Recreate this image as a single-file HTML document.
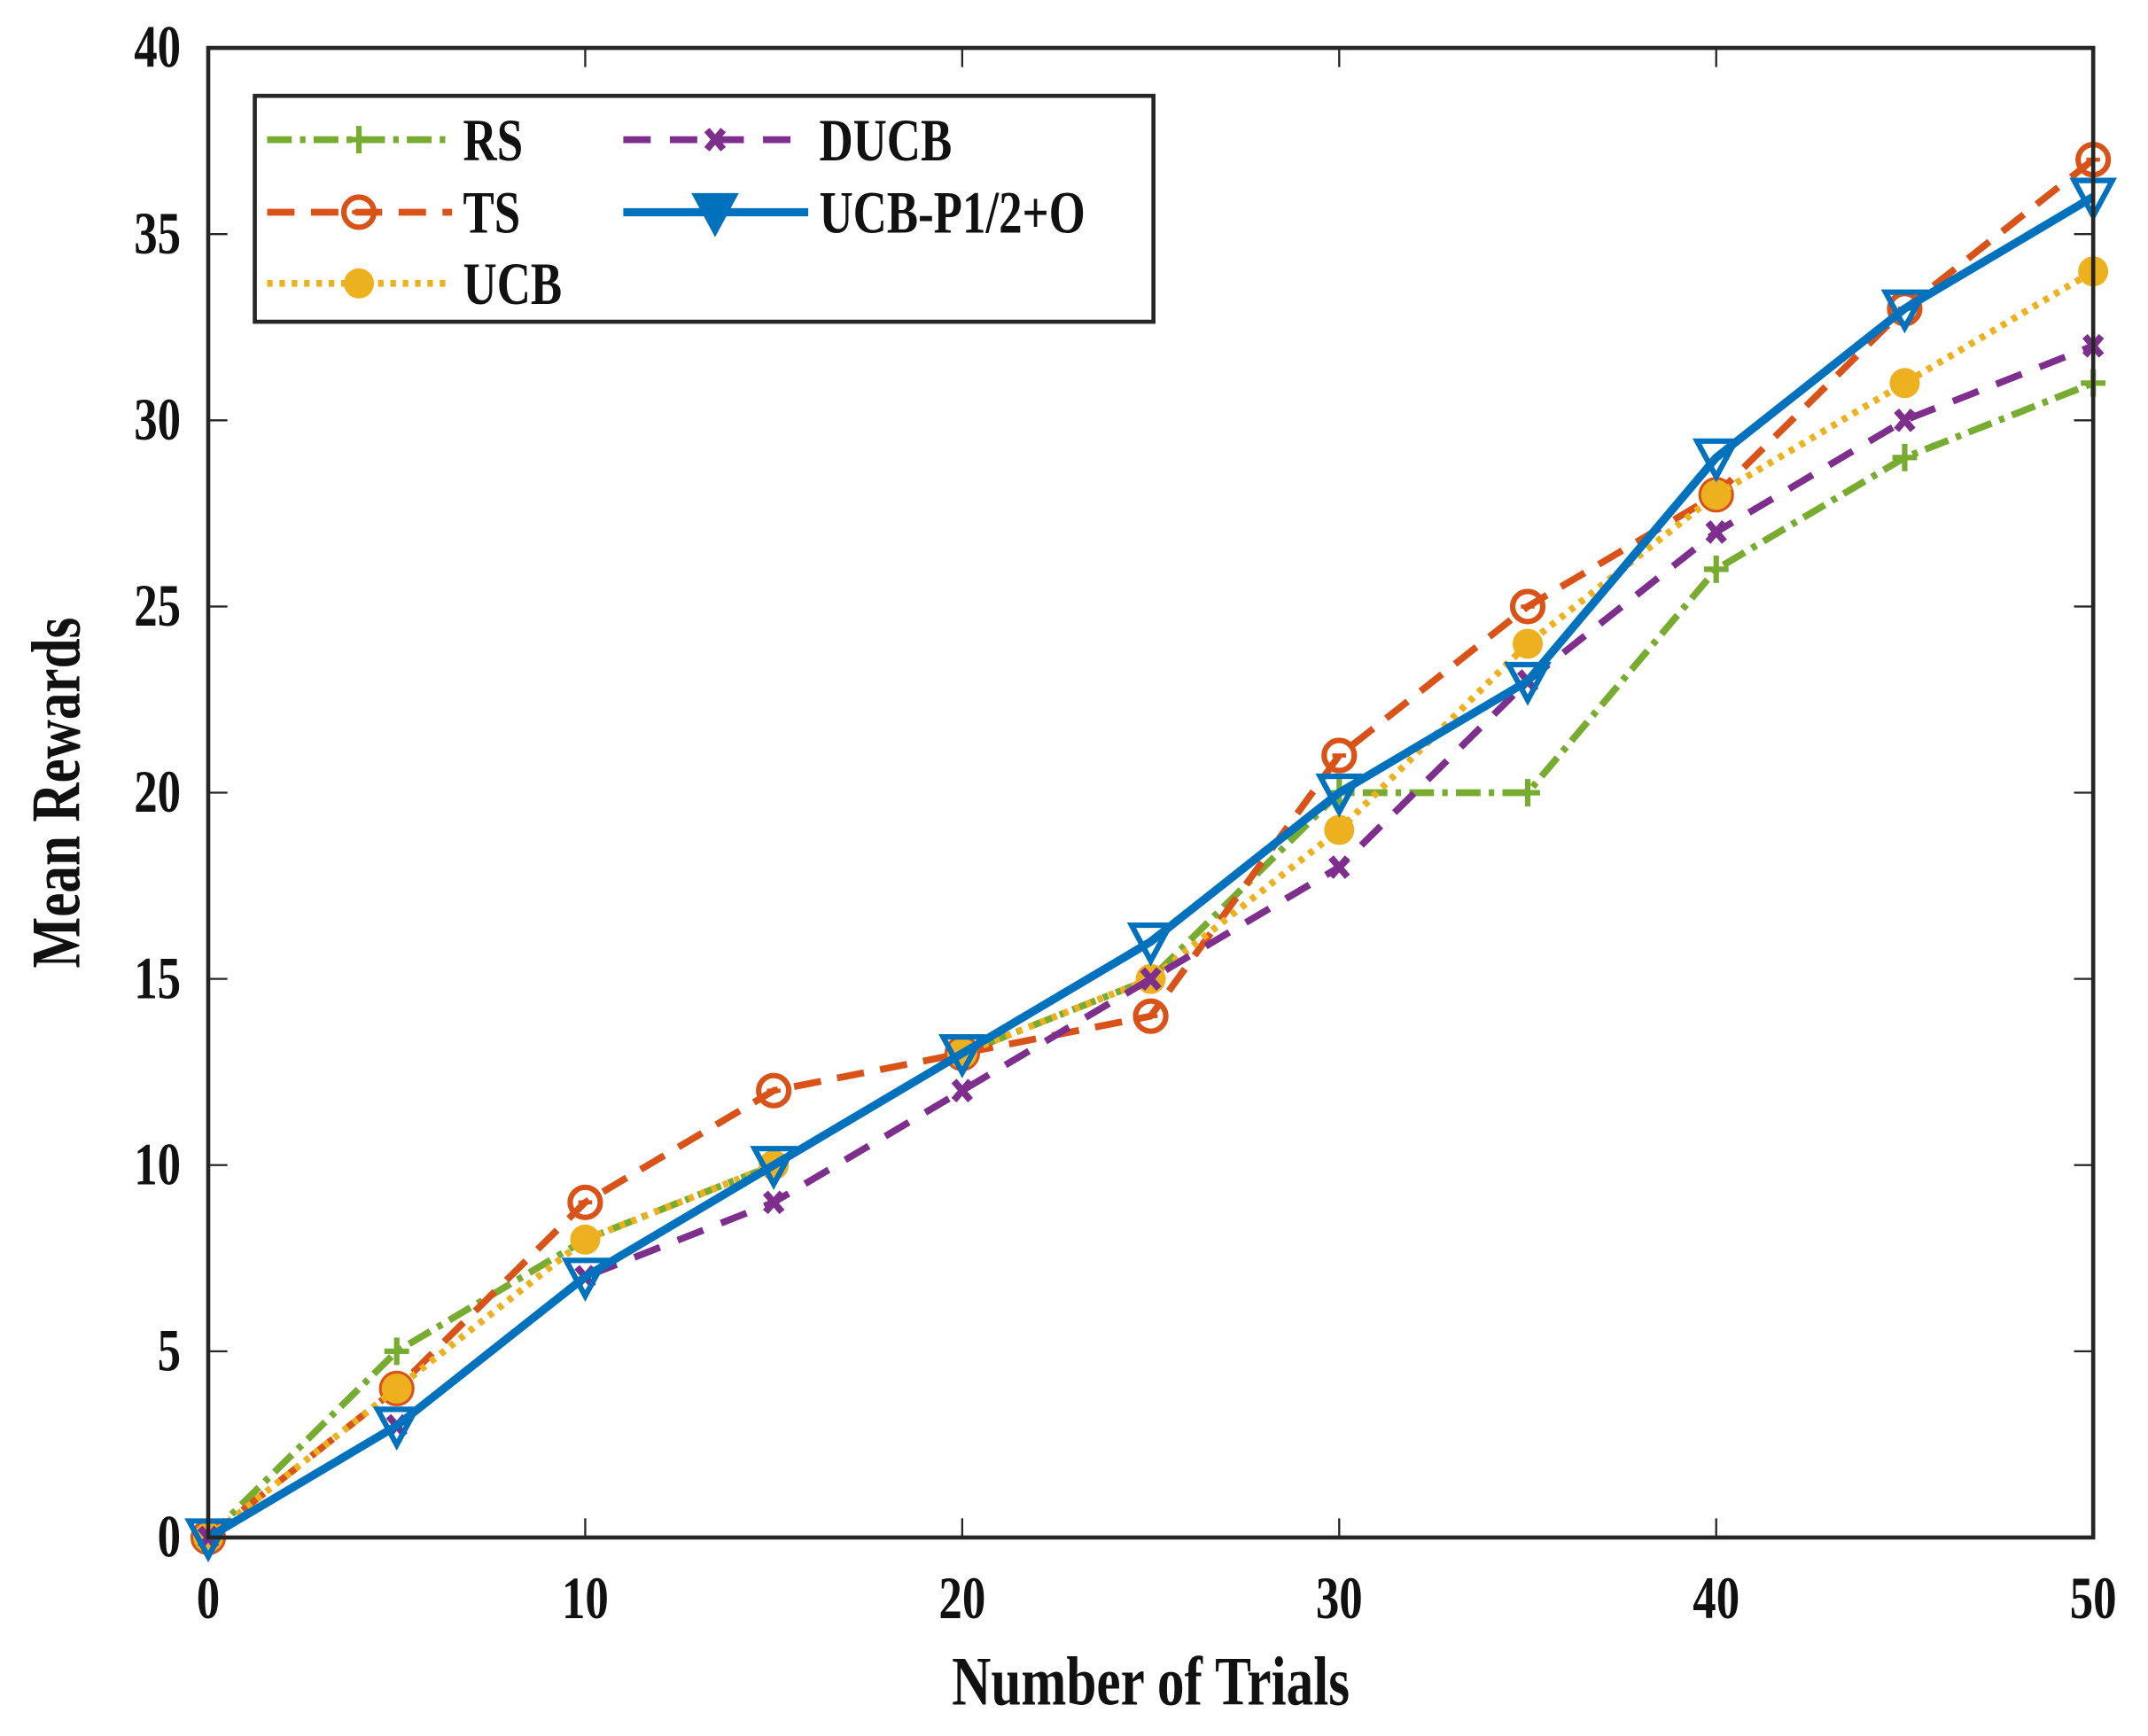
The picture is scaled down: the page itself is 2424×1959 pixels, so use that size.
<!DOCTYPE html>
<html><head><meta charset="utf-8"><style>html,body{margin:0;padding:0;background:#fff}svg{display:block}</style></head>
<body>
<svg id="s" width="2424" height="1959" viewBox="0 0 1568 1268" preserveAspectRatio="none" xmlns="http://www.w3.org/2000/svg" font-family="Liberation Serif, serif" font-weight="bold">
<rect width="1568" height="1268" fill="#fff"/>
<g id="ax"></g>
<g id="series"></g>
<rect x="152" y="35" width="1376" height="1088" fill="none" stroke="#262626" stroke-width="3"/>
<g id="legend">
<rect x="186" y="70" width="656" height="165" fill="#fff" stroke="#262626" stroke-width="3"/>
</g>
<text transform="translate(840,1245) scale(0.9,1.15)" font-size="44" text-anchor="middle" fill="#111">Number of Trials</text>
<text transform="translate(58,579) rotate(-90) scale(0.9,1.15)" font-size="44" text-anchor="middle" fill="#111">Mean Rewards</text>
</svg>
<script>
const NS="http://www.w3.org/2000/svg";
function el(t,a,p){const e=document.createElementNS(NS,t);for(const k in a)e.setAttribute(k,a[k]);(p||document.getElementById('series')).appendChild(e);return e;}
const X=v=>152+v*27.52, Y=v=>1123-v*27.2;
const ax=document.getElementById('ax');
for(let v=0;v<=50;v+=10){const x=X(v);
 el('line',{x1:x,y1:1123,x2:x,y2:1109,stroke:'#262626','stroke-width':1.5},ax);
 el('line',{x1:x,y1:35,x2:x,y2:49,stroke:'#262626','stroke-width':1.5},ax);
 const t=el('text',{transform:`translate(${x},1182) scale(0.9,1.15)`,'font-size':38,'text-anchor':'middle',fill:'#111'},ax);t.textContent=v;}
for(let v=0;v<=40;v+=5){const y=Y(v);
 el('line',{x1:152,y1:y,x2:166,y2:y,stroke:'#262626','stroke-width':1.5},ax);
 el('line',{x1:1528,y1:y,x2:1514,y2:y,stroke:'#262626','stroke-width':1.5},ax);
 const t=el('text',{transform:`translate(132,${y+14}) scale(0.9,1.15)`,'font-size':38,'text-anchor':'end',fill:'#111'},ax);t.textContent=v;}
const xs=[0,5,10,15,20,25,30,35,40,45,50];
const S=[
 {n:'RS',c:'#77ac30',d:'18,6,4,6',w:5,m:'plus',v:[0,5,8,10,13,15,20,20,26,29,31]},
 {n:'TS',c:'#d95319',d:'20,12',w:5,m:'circ',v:[0,4,9,12,13,14,21,25,28,33,37]},
 {n:'UCB',c:'#edb120',d:'4,5',w:5,m:'dot',v:[0,4,8,10,13,15,19,24,28,31,34]},
 {n:'DUCB',c:'#7e2f8e',d:'20,14',w:5,m:'x',v:[0,3,7,9,12,15,18,23,27,30,32]},
 {n:'UCB-P1/2+O',c:'#0072bd',d:'',w:6,m:'tri',v:[0,3,7,10,13,16,20,23,29,33,36]}];
function marker(m,x,y,c,g){
 if(m=='plus'){el('line',{x1:x-9,y1:y,x2:x+9,y2:y,stroke:c,'stroke-width':4},g);el('line',{x1:x,y1:y-10,x2:x,y2:y+10,stroke:c,'stroke-width':4},g);}
 else if(m=='circ'){el('circle',{cx:x,cy:y,r:11,fill:'none',stroke:c,'stroke-width':4},g);el('line',{x1:x-5,y1:y,x2:x+5,y2:y,stroke:c,'stroke-width':3},g);}
 else if(m=='dot'){el('circle',{cx:x,cy:y,r:11,fill:c},g);}
 else if(m=='x'){el('line',{x1:x-6,y1:y-7,x2:x+6,y2:y+7,stroke:c,'stroke-width':5},g);el('line',{x1:x+6,y1:y-7,x2:x-6,y2:y+7,stroke:c,'stroke-width':5},g);}
 else if(m=='tri'){el('polygon',{points:`${x-14},${y-12} ${x+14},${y-12} ${x},${y+14}`,fill:'none',stroke:c,'stroke-width':4},g);}
}
const sg=document.getElementById('series');
S.forEach(s=>{const pts=s.v.map((v,i)=>X(xs[i])+','+Y(v)).join(' ');
 const a={points:pts,fill:'none',stroke:s.c,'stroke-width':s.w,'stroke-linejoin':'round'};if(s.d)a['stroke-dasharray']=s.d;el('polyline',a,sg);
 s.v.forEach((v,i)=>marker(s.m,X(xs[i]),Y(v),s.c,sg));});
const lg=document.getElementById('legend');
const pos=[[195,102],[195,155],[195,207],[455,102],[455,155]];
S.forEach((s,i)=>{const [x,y]=pos[i];
 const a={x1:x,y1:y,x2:x+135,y2:y,stroke:s.c,'stroke-width':s.w};if(s.d)a['stroke-dasharray']=s.d;el('line',a,lg);
 marker(s.m,x+67,y,s.c,lg);
 if(s.m=='tri')el('polygon',{points:`${x+53},${y-12} ${x+81},${y-12} ${x+67},${y+18}`,fill:s.c},lg);
 const t=el('text',{transform:`translate(${x+143},${y+15}) scale(0.9,1.15)`,'font-size':38,fill:'#111'},lg);t.textContent=s.n;});
</script>
</body></html>
